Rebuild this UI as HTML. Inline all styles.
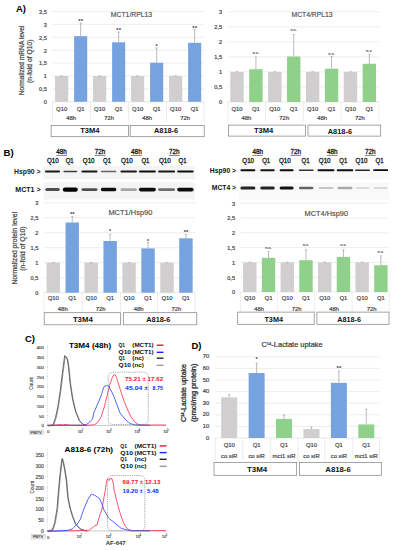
<!DOCTYPE html>
<html><head><meta charset="utf-8"><style>
html,body{margin:0;padding:0;background:#fff;overflow:hidden;width:393px;height:550px;}
svg{display:block;}
text{font-family:"Liberation Sans",sans-serif;}
</style></head><body>
<svg width="393" height="550" viewBox="0 0 393 550">
<defs><filter id="bl" x="-20%" y="-100%" width="140%" height="300%"><feGaussianBlur stdDeviation="0.45"/></filter></defs>
<rect width="393" height="550" fill="#fff"/>
<text x="21.00" y="12.42" font-size="9.5" text-anchor="middle" fill="#000" font-weight="bold" >A)</text>
<line x1="52.40" y1="88.90" x2="204.20" y2="88.90" stroke="#e0e0e0" stroke-width="0.6" />
<line x1="52.40" y1="76.00" x2="204.20" y2="76.00" stroke="#e0e0e0" stroke-width="0.6" />
<line x1="52.40" y1="63.10" x2="204.20" y2="63.10" stroke="#e0e0e0" stroke-width="0.6" />
<line x1="52.40" y1="50.20" x2="204.20" y2="50.20" stroke="#e0e0e0" stroke-width="0.6" />
<line x1="52.40" y1="37.30" x2="204.20" y2="37.30" stroke="#e0e0e0" stroke-width="0.6" />
<line x1="52.40" y1="24.40" x2="204.20" y2="24.40" stroke="#e0e0e0" stroke-width="0.6" />
<line x1="52.40" y1="11.50" x2="204.20" y2="11.50" stroke="#e0e0e0" stroke-width="0.6" />
<text x="46.80" y="104.16" font-size="5.6" text-anchor="end" fill="#4a4a4a"  stroke="#4a4a4a" stroke-width="0.22">0</text>
<text x="46.80" y="91.26" font-size="5.6" text-anchor="end" fill="#4a4a4a"  stroke="#4a4a4a" stroke-width="0.22">0,5</text>
<text x="46.80" y="78.36" font-size="5.6" text-anchor="end" fill="#4a4a4a"  stroke="#4a4a4a" stroke-width="0.22">1</text>
<text x="46.80" y="65.46" font-size="5.6" text-anchor="end" fill="#4a4a4a"  stroke="#4a4a4a" stroke-width="0.22">1,5</text>
<text x="46.80" y="52.56" font-size="5.6" text-anchor="end" fill="#4a4a4a"  stroke="#4a4a4a" stroke-width="0.22">2</text>
<text x="46.80" y="39.66" font-size="5.6" text-anchor="end" fill="#4a4a4a"  stroke="#4a4a4a" stroke-width="0.22">2,5</text>
<text x="46.80" y="26.76" font-size="5.6" text-anchor="end" fill="#4a4a4a"  stroke="#4a4a4a" stroke-width="0.22">3</text>
<text x="46.80" y="13.86" font-size="5.6" text-anchor="end" fill="#4a4a4a"  stroke="#4a4a4a" stroke-width="0.22">3,5</text>
<line x1="52.40" y1="101.80" x2="204.20" y2="101.80" stroke="#e0e0e0" stroke-width="0.7" />
<line x1="52.50" y1="101.80" x2="52.50" y2="122.00" stroke="#e0e0e0" stroke-width="0.6" />
<line x1="90.50" y1="101.80" x2="90.50" y2="122.00" stroke="#e0e0e0" stroke-width="0.6" />
<line x1="128.50" y1="101.80" x2="128.50" y2="122.00" stroke="#e0e0e0" stroke-width="0.6" />
<line x1="166.50" y1="101.80" x2="166.50" y2="122.00" stroke="#e0e0e0" stroke-width="0.6" />
<line x1="204.20" y1="101.80" x2="204.20" y2="122.00" stroke="#e0e0e0" stroke-width="0.6" />
<rect x="55.10" y="76.00" width="13.10" height="25.80" fill="#d0cece" />
<line x1="60.35" y1="75.80" x2="62.95" y2="75.80" stroke="#888" stroke-width="0.5" />
<rect x="74.10" y="36.16" width="13.10" height="65.64" fill="#76a3e0" />
<line x1="80.65" y1="36.16" x2="80.65" y2="23.20" stroke="#8c8c8c" stroke-width="0.6" />
<line x1="79.45" y1="23.20" x2="81.85" y2="23.20" stroke="#8c8c8c" stroke-width="0.5" />
<text x="80.65" y="22.73" font-size="5.5" text-anchor="middle" fill="#404040" font-weight="bold" textLength="4.6" lengthAdjust="spacingAndGlyphs" >**</text>
<rect x="93.10" y="76.00" width="13.10" height="25.80" fill="#d0cece" />
<line x1="98.35" y1="75.80" x2="100.95" y2="75.80" stroke="#888" stroke-width="0.5" />
<rect x="112.10" y="42.31" width="13.10" height="59.49" fill="#76a3e0" />
<line x1="118.65" y1="42.31" x2="118.65" y2="32.00" stroke="#8c8c8c" stroke-width="0.6" />
<line x1="117.45" y1="32.00" x2="119.85" y2="32.00" stroke="#8c8c8c" stroke-width="0.5" />
<text x="118.65" y="32.42" font-size="5.5" text-anchor="middle" fill="#404040" font-weight="bold" textLength="4.6" lengthAdjust="spacingAndGlyphs" >**</text>
<rect x="131.10" y="76.00" width="13.10" height="25.80" fill="#d0cece" />
<line x1="136.35" y1="75.80" x2="138.95" y2="75.80" stroke="#888" stroke-width="0.5" />
<rect x="150.10" y="62.76" width="13.10" height="39.04" fill="#76a3e0" />
<line x1="156.65" y1="62.76" x2="156.65" y2="47.90" stroke="#8c8c8c" stroke-width="0.6" />
<line x1="155.45" y1="47.90" x2="157.85" y2="47.90" stroke="#8c8c8c" stroke-width="0.5" />
<text x="156.65" y="47.83" font-size="5.5" text-anchor="middle" fill="#404040" font-weight="bold" >*</text>
<rect x="169.10" y="76.00" width="13.10" height="25.80" fill="#d0cece" />
<line x1="174.35" y1="75.80" x2="176.95" y2="75.80" stroke="#888" stroke-width="0.5" />
<rect x="188.10" y="42.80" width="13.10" height="59.00" fill="#76a3e0" />
<line x1="194.65" y1="42.80" x2="194.65" y2="29.60" stroke="#8c8c8c" stroke-width="0.6" />
<line x1="193.45" y1="29.60" x2="195.85" y2="29.60" stroke="#8c8c8c" stroke-width="0.5" />
<text x="194.65" y="30.02" font-size="5.5" text-anchor="middle" fill="#404040" font-weight="bold" textLength="4.6" lengthAdjust="spacingAndGlyphs" >**</text>
<text x="61.65" y="110.56" font-size="5.9" text-anchor="middle" fill="#4a4a4a"  stroke="#4a4a4a" stroke-width="0.22">Q10</text>
<text x="80.65" y="110.56" font-size="5.9" text-anchor="middle" fill="#4a4a4a"  stroke="#4a4a4a" stroke-width="0.22">Q1</text>
<text x="99.65" y="110.56" font-size="5.9" text-anchor="middle" fill="#4a4a4a"  stroke="#4a4a4a" stroke-width="0.22">Q10</text>
<text x="118.65" y="110.56" font-size="5.9" text-anchor="middle" fill="#4a4a4a"  stroke="#4a4a4a" stroke-width="0.22">Q1</text>
<text x="137.65" y="110.56" font-size="5.9" text-anchor="middle" fill="#4a4a4a"  stroke="#4a4a4a" stroke-width="0.22">Q10</text>
<text x="156.65" y="110.56" font-size="5.9" text-anchor="middle" fill="#4a4a4a"  stroke="#4a4a4a" stroke-width="0.22">Q1</text>
<text x="175.65" y="110.56" font-size="5.9" text-anchor="middle" fill="#4a4a4a"  stroke="#4a4a4a" stroke-width="0.22">Q10</text>
<text x="194.65" y="110.56" font-size="5.9" text-anchor="middle" fill="#4a4a4a"  stroke="#4a4a4a" stroke-width="0.22">Q1</text>
<text x="71.15" y="120.06" font-size="5.9" text-anchor="middle" fill="#4a4a4a"  stroke="#4a4a4a" stroke-width="0.22">48h</text>
<text x="109.15" y="120.06" font-size="5.9" text-anchor="middle" fill="#4a4a4a"  stroke="#4a4a4a" stroke-width="0.22">72h</text>
<text x="147.15" y="120.06" font-size="5.9" text-anchor="middle" fill="#4a4a4a"  stroke="#4a4a4a" stroke-width="0.22">48h</text>
<text x="185.15" y="120.06" font-size="5.9" text-anchor="middle" fill="#4a4a4a"  stroke="#4a4a4a" stroke-width="0.22">72h</text>
<rect x="51.10" y="125.40" width="77.40" height="11.30" fill="#fff" stroke="#7f7f7f" stroke-width="0.7"/>
<text x="89.85" y="133.14" font-size="7.7" text-anchor="middle" fill="#111" font-weight="bold" textLength="19.3" lengthAdjust="spacingAndGlyphs" >T3M4</text>
<rect x="130.20" y="125.40" width="74.00" height="11.30" fill="#fff" stroke="#7f7f7f" stroke-width="0.7"/>
<text x="166.05" y="133.29" font-size="7.7" text-anchor="middle" fill="#111" font-weight="bold" textLength="24.1" lengthAdjust="spacingAndGlyphs" >A818-6</text>
<text x="131.50" y="17.05" font-size="7.3" text-anchor="middle" fill="#4a4a4a" textLength="41.3" lengthAdjust="spacingAndGlyphs"  stroke="#4a4a4a" stroke-width="0.14">MCT1/RPL13</text>
<text transform="translate(21.80,60.50) rotate(-90)" x="0" y="2.24" font-size="6.4" text-anchor="middle" fill="#4a4a4a" textLength="69.6" lengthAdjust="spacingAndGlyphs"  stroke="#4a4a4a" stroke-width="0.22">Normalized mRNA level</text>
<text transform="translate(29.60,61.30) rotate(-90)" x="0" y="2.24" font-size="6.4" text-anchor="middle" fill="#4a4a4a" textLength="43.4" lengthAdjust="spacingAndGlyphs"  stroke="#4a4a4a" stroke-width="0.22">(n-fold of Q10)</text>
<line x1="227.80" y1="86.95" x2="379.20" y2="86.95" stroke="#e0e0e0" stroke-width="0.6" />
<line x1="227.80" y1="71.90" x2="379.20" y2="71.90" stroke="#e0e0e0" stroke-width="0.6" />
<line x1="227.80" y1="56.85" x2="379.20" y2="56.85" stroke="#e0e0e0" stroke-width="0.6" />
<line x1="227.80" y1="41.80" x2="379.20" y2="41.80" stroke="#e0e0e0" stroke-width="0.6" />
<line x1="227.80" y1="26.75" x2="379.20" y2="26.75" stroke="#e0e0e0" stroke-width="0.6" />
<line x1="227.80" y1="11.70" x2="379.20" y2="11.70" stroke="#e0e0e0" stroke-width="0.6" />
<text x="222.00" y="104.36" font-size="5.6" text-anchor="end" fill="#4a4a4a"  stroke="#4a4a4a" stroke-width="0.22">0</text>
<text x="222.00" y="89.31" font-size="5.6" text-anchor="end" fill="#4a4a4a"  stroke="#4a4a4a" stroke-width="0.22">0,5</text>
<text x="222.00" y="74.26" font-size="5.6" text-anchor="end" fill="#4a4a4a"  stroke="#4a4a4a" stroke-width="0.22">1</text>
<text x="222.00" y="59.21" font-size="5.6" text-anchor="end" fill="#4a4a4a"  stroke="#4a4a4a" stroke-width="0.22">1,5</text>
<text x="222.00" y="44.16" font-size="5.6" text-anchor="end" fill="#4a4a4a"  stroke="#4a4a4a" stroke-width="0.22">2</text>
<text x="222.00" y="29.11" font-size="5.6" text-anchor="end" fill="#4a4a4a"  stroke="#4a4a4a" stroke-width="0.22">2,5</text>
<text x="222.00" y="14.06" font-size="5.6" text-anchor="end" fill="#4a4a4a"  stroke="#4a4a4a" stroke-width="0.22">3</text>
<line x1="227.80" y1="102.00" x2="379.20" y2="102.00" stroke="#e0e0e0" stroke-width="0.7" />
<line x1="228.00" y1="102.00" x2="228.00" y2="122.00" stroke="#e0e0e0" stroke-width="0.6" />
<line x1="265.60" y1="102.00" x2="265.60" y2="122.00" stroke="#e0e0e0" stroke-width="0.6" />
<line x1="303.40" y1="102.00" x2="303.40" y2="122.00" stroke="#e0e0e0" stroke-width="0.6" />
<line x1="341.20" y1="102.00" x2="341.20" y2="122.00" stroke="#e0e0e0" stroke-width="0.6" />
<line x1="379.00" y1="102.00" x2="379.00" y2="122.00" stroke="#e0e0e0" stroke-width="0.6" />
<rect x="230.30" y="71.90" width="13.40" height="30.10" fill="#d0cece" />
<line x1="235.70" y1="71.70" x2="238.30" y2="71.70" stroke="#888" stroke-width="0.5" />
<rect x="249.21" y="69.19" width="13.40" height="32.81" fill="#8fd18a" />
<line x1="255.91" y1="69.19" x2="255.91" y2="57.00" stroke="#8c8c8c" stroke-width="0.6" />
<line x1="254.71" y1="57.00" x2="257.11" y2="57.00" stroke="#8c8c8c" stroke-width="0.5" />
<text x="255.91" y="54.00" font-size="4.0" text-anchor="middle" fill="#404040" font-weight="bold" textLength="6.6" lengthAdjust="spacingAndGlyphs" >n.s.</text>
<rect x="268.12" y="71.90" width="13.40" height="30.10" fill="#d0cece" />
<line x1="273.52" y1="71.70" x2="276.12" y2="71.70" stroke="#888" stroke-width="0.5" />
<rect x="287.03" y="56.55" width="13.40" height="45.45" fill="#8fd18a" />
<line x1="293.73" y1="56.55" x2="293.73" y2="34.60" stroke="#8c8c8c" stroke-width="0.6" />
<line x1="292.53" y1="34.60" x2="294.93" y2="34.60" stroke="#8c8c8c" stroke-width="0.5" />
<text x="293.73" y="30.70" font-size="4.0" text-anchor="middle" fill="#404040" font-weight="bold" textLength="6.6" lengthAdjust="spacingAndGlyphs" >n.s.</text>
<rect x="305.94" y="71.90" width="13.40" height="30.10" fill="#d0cece" />
<line x1="311.34" y1="71.70" x2="313.94" y2="71.70" stroke="#888" stroke-width="0.5" />
<rect x="324.85" y="68.74" width="13.40" height="33.26" fill="#8fd18a" />
<line x1="331.55" y1="68.74" x2="331.55" y2="56.30" stroke="#8c8c8c" stroke-width="0.6" />
<line x1="330.35" y1="56.30" x2="332.75" y2="56.30" stroke="#8c8c8c" stroke-width="0.5" />
<text x="331.55" y="54.60" font-size="4.0" text-anchor="middle" fill="#404040" font-weight="bold" textLength="6.6" lengthAdjust="spacingAndGlyphs" >n.s.</text>
<rect x="343.76" y="71.90" width="13.40" height="30.10" fill="#d0cece" />
<line x1="349.16" y1="71.70" x2="351.76" y2="71.70" stroke="#888" stroke-width="0.5" />
<rect x="362.67" y="63.77" width="13.40" height="38.23" fill="#8fd18a" />
<line x1="369.37" y1="63.77" x2="369.37" y2="54.20" stroke="#8c8c8c" stroke-width="0.6" />
<line x1="368.17" y1="54.20" x2="370.57" y2="54.20" stroke="#8c8c8c" stroke-width="0.5" />
<text x="369.37" y="52.40" font-size="4.0" text-anchor="middle" fill="#404040" font-weight="bold" textLength="6.6" lengthAdjust="spacingAndGlyphs" >n.s.</text>
<text x="237.00" y="110.56" font-size="5.9" text-anchor="middle" fill="#4a4a4a"  stroke="#4a4a4a" stroke-width="0.22">Q10</text>
<text x="255.91" y="110.56" font-size="5.9" text-anchor="middle" fill="#4a4a4a"  stroke="#4a4a4a" stroke-width="0.22">Q1</text>
<text x="274.82" y="110.56" font-size="5.9" text-anchor="middle" fill="#4a4a4a"  stroke="#4a4a4a" stroke-width="0.22">Q10</text>
<text x="293.73" y="110.56" font-size="5.9" text-anchor="middle" fill="#4a4a4a"  stroke="#4a4a4a" stroke-width="0.22">Q1</text>
<text x="312.64" y="110.56" font-size="5.9" text-anchor="middle" fill="#4a4a4a"  stroke="#4a4a4a" stroke-width="0.22">Q10</text>
<text x="331.55" y="110.56" font-size="5.9" text-anchor="middle" fill="#4a4a4a"  stroke="#4a4a4a" stroke-width="0.22">Q1</text>
<text x="350.46" y="110.56" font-size="5.9" text-anchor="middle" fill="#4a4a4a"  stroke="#4a4a4a" stroke-width="0.22">Q10</text>
<text x="369.37" y="110.56" font-size="5.9" text-anchor="middle" fill="#4a4a4a"  stroke="#4a4a4a" stroke-width="0.22">Q1</text>
<text x="246.46" y="120.06" font-size="5.9" text-anchor="middle" fill="#4a4a4a"  stroke="#4a4a4a" stroke-width="0.22">48h</text>
<text x="284.27" y="120.06" font-size="5.9" text-anchor="middle" fill="#4a4a4a"  stroke="#4a4a4a" stroke-width="0.22">72h</text>
<text x="322.09" y="120.06" font-size="5.9" text-anchor="middle" fill="#4a4a4a"  stroke="#4a4a4a" stroke-width="0.22">48h</text>
<text x="359.91" y="120.06" font-size="5.9" text-anchor="middle" fill="#4a4a4a"  stroke="#4a4a4a" stroke-width="0.22">72h</text>
<rect x="228.60" y="125.10" width="76.80" height="11.00" fill="#fff" stroke="#7f7f7f" stroke-width="0.7"/>
<text x="263.60" y="133.44" font-size="7.7" text-anchor="middle" fill="#111" font-weight="bold" textLength="19.3" lengthAdjust="spacingAndGlyphs" >T3M4</text>
<rect x="308.00" y="125.10" width="72.70" height="11.00" fill="#fff" stroke="#7f7f7f" stroke-width="0.7"/>
<text x="339.90" y="133.59" font-size="7.7" text-anchor="middle" fill="#111" font-weight="bold" textLength="24.2" lengthAdjust="spacingAndGlyphs" >A818-6</text>
<text x="312.00" y="16.75" font-size="7.3" text-anchor="middle" fill="#4a4a4a" textLength="41.0" lengthAdjust="spacingAndGlyphs"  stroke="#4a4a4a" stroke-width="0.14">MCT4/RPL13</text>
<text x="8.60" y="156.36" font-size="9.6" text-anchor="middle" fill="#000" font-weight="bold" >B)</text>
<rect x="43.50" y="165.80" width="151.50" height="13.30" fill="#f4f4f4" />
<rect x="43.50" y="182.30" width="151.50" height="17.20" fill="#f4f4f4" />
<text x="52.80" y="162.84" font-size="6.4" text-anchor="middle" fill="#1a1a1a" textLength="11.8" lengthAdjust="spacingAndGlyphs"  stroke="#1a1a1a" stroke-width="0.3">Q10</text>
<text x="69.70" y="162.84" font-size="6.4" text-anchor="middle" fill="#1a1a1a" textLength="8.0" lengthAdjust="spacingAndGlyphs"  stroke="#1a1a1a" stroke-width="0.3">Q1</text>
<text x="88.70" y="162.84" font-size="6.4" text-anchor="middle" fill="#1a1a1a" textLength="11.8" lengthAdjust="spacingAndGlyphs"  stroke="#1a1a1a" stroke-width="0.3">Q10</text>
<text x="107.00" y="162.84" font-size="6.4" text-anchor="middle" fill="#1a1a1a" textLength="8.0" lengthAdjust="spacingAndGlyphs"  stroke="#1a1a1a" stroke-width="0.3">Q1</text>
<text x="126.90" y="162.84" font-size="6.4" text-anchor="middle" fill="#1a1a1a" textLength="11.8" lengthAdjust="spacingAndGlyphs"  stroke="#1a1a1a" stroke-width="0.3">Q10</text>
<text x="145.40" y="162.84" font-size="6.4" text-anchor="middle" fill="#1a1a1a" textLength="8.0" lengthAdjust="spacingAndGlyphs"  stroke="#1a1a1a" stroke-width="0.3">Q1</text>
<text x="164.80" y="162.84" font-size="6.4" text-anchor="middle" fill="#1a1a1a" textLength="11.8" lengthAdjust="spacingAndGlyphs"  stroke="#1a1a1a" stroke-width="0.3">Q10</text>
<text x="182.60" y="162.84" font-size="6.4" text-anchor="middle" fill="#1a1a1a" textLength="8.0" lengthAdjust="spacingAndGlyphs"  stroke="#1a1a1a" stroke-width="0.3">Q1</text>
<text x="61.60" y="154.11" font-size="6.3" text-anchor="middle" fill="#1a1a1a" textLength="10.6" lengthAdjust="spacingAndGlyphs"  stroke="#1a1a1a" stroke-width="0.3">48h</text>
<line x1="56.20" y1="155.50" x2="67.00" y2="155.50" stroke="#333" stroke-width="0.55" />
<text x="100.00" y="154.11" font-size="6.3" text-anchor="middle" fill="#1a1a1a" textLength="10.6" lengthAdjust="spacingAndGlyphs"  stroke="#1a1a1a" stroke-width="0.3">72h</text>
<line x1="94.60" y1="155.50" x2="105.40" y2="155.50" stroke="#333" stroke-width="0.55" />
<text x="136.40" y="154.11" font-size="6.3" text-anchor="middle" fill="#1a1a1a" textLength="10.6" lengthAdjust="spacingAndGlyphs"  stroke="#1a1a1a" stroke-width="0.3">48h</text>
<line x1="131.00" y1="155.50" x2="141.80" y2="155.50" stroke="#333" stroke-width="0.55" />
<text x="174.20" y="154.11" font-size="6.3" text-anchor="middle" fill="#1a1a1a" textLength="10.6" lengthAdjust="spacingAndGlyphs"  stroke="#1a1a1a" stroke-width="0.3">72h</text>
<line x1="168.80" y1="155.50" x2="179.60" y2="155.50" stroke="#333" stroke-width="0.55" />
<rect x="45.00" y="170.60" width="15.00" height="1.80" rx="0.90" fill="#000" fill-opacity="0.9" filter="url(#bl)"/>
<rect x="45.25" y="188.10" width="14.50" height="3.00" rx="1.50" fill="#000" fill-opacity="0.68" filter="url(#bl)"/>
<rect x="63.30" y="170.75" width="14.00" height="1.50" rx="0.75" fill="#000" fill-opacity="0.75" filter="url(#bl)"/>
<rect x="62.80" y="187.40" width="15.00" height="4.40" rx="2.20" fill="#000" fill-opacity="1.0" filter="url(#bl)"/>
<rect x="81.50" y="170.60" width="16.00" height="1.80" rx="0.90" fill="#000" fill-opacity="0.9" filter="url(#bl)"/>
<rect x="81.50" y="188.20" width="16.00" height="2.80" rx="1.40" fill="#000" fill-opacity="0.68" filter="url(#bl)"/>
<rect x="100.85" y="170.85" width="15.50" height="1.30" rx="0.65" fill="#000" fill-opacity="0.6" filter="url(#bl)"/>
<rect x="100.85" y="187.85" width="15.50" height="3.50" rx="1.75" fill="#000" fill-opacity="0.95" filter="url(#bl)"/>
<rect x="120.45" y="170.55" width="16.50" height="1.90" rx="0.95" fill="#000" fill-opacity="0.9" filter="url(#bl)"/>
<rect x="120.45" y="188.30" width="16.50" height="2.60" rx="1.30" fill="#000" fill-opacity="0.32" filter="url(#bl)"/>
<rect x="138.90" y="170.55" width="17.00" height="1.90" rx="0.95" fill="#000" fill-opacity="0.95" filter="url(#bl)"/>
<rect x="138.90" y="187.80" width="17.00" height="3.60" rx="1.80" fill="#000" fill-opacity="0.95" filter="url(#bl)"/>
<rect x="158.10" y="170.55" width="17.00" height="1.90" rx="0.95" fill="#000" fill-opacity="0.9" filter="url(#bl)"/>
<rect x="158.10" y="188.20" width="17.00" height="2.80" rx="1.40" fill="#000" fill-opacity="0.55" filter="url(#bl)"/>
<rect x="177.15" y="170.55" width="16.50" height="1.90" rx="0.95" fill="#000" fill-opacity="0.95" filter="url(#bl)"/>
<rect x="177.15" y="187.70" width="16.50" height="3.80" rx="1.90" fill="#000" fill-opacity="0.95" filter="url(#bl)"/>
<text x="14.00" y="173.65" font-size="7.0" text-anchor="start" fill="#222" font-weight="bold" textLength="26.5" lengthAdjust="spacingAndGlyphs" >Hsp90 &gt;</text>
<text x="15.30" y="191.65" font-size="7.0" text-anchor="start" fill="#111" font-weight="bold" textLength="25.2" lengthAdjust="spacingAndGlyphs" >MCT1 &gt;</text>
<rect x="239.00" y="165.80" width="150.00" height="13.30" fill="#f9f9f9" />
<rect x="239.00" y="182.30" width="150.00" height="17.20" fill="#f9f9f9" />
<text x="248.20" y="162.84" font-size="6.4" text-anchor="middle" fill="#1a1a1a" textLength="11.8" lengthAdjust="spacingAndGlyphs"  stroke="#1a1a1a" stroke-width="0.3">Q10</text>
<text x="266.20" y="162.84" font-size="6.4" text-anchor="middle" fill="#1a1a1a" textLength="8.0" lengthAdjust="spacingAndGlyphs"  stroke="#1a1a1a" stroke-width="0.3">Q1</text>
<text x="284.90" y="162.84" font-size="6.4" text-anchor="middle" fill="#1a1a1a" textLength="11.8" lengthAdjust="spacingAndGlyphs"  stroke="#1a1a1a" stroke-width="0.3">Q10</text>
<text x="305.60" y="162.84" font-size="6.4" text-anchor="middle" fill="#1a1a1a" textLength="8.0" lengthAdjust="spacingAndGlyphs"  stroke="#1a1a1a" stroke-width="0.3">Q1</text>
<text x="324.70" y="162.84" font-size="6.4" text-anchor="middle" fill="#1a1a1a" textLength="11.8" lengthAdjust="spacingAndGlyphs"  stroke="#1a1a1a" stroke-width="0.3">Q10</text>
<text x="343.30" y="162.84" font-size="6.4" text-anchor="middle" fill="#1a1a1a" textLength="8.0" lengthAdjust="spacingAndGlyphs"  stroke="#1a1a1a" stroke-width="0.3">Q1</text>
<text x="361.50" y="162.84" font-size="6.4" text-anchor="middle" fill="#1a1a1a" textLength="11.8" lengthAdjust="spacingAndGlyphs"  stroke="#1a1a1a" stroke-width="0.3">Q10</text>
<text x="379.60" y="162.84" font-size="6.4" text-anchor="middle" fill="#1a1a1a" textLength="8.0" lengthAdjust="spacingAndGlyphs"  stroke="#1a1a1a" stroke-width="0.3">Q1</text>
<text x="257.70" y="154.11" font-size="6.3" text-anchor="middle" fill="#1a1a1a" textLength="10.6" lengthAdjust="spacingAndGlyphs"  stroke="#1a1a1a" stroke-width="0.3">48h</text>
<line x1="252.30" y1="155.50" x2="263.10" y2="155.50" stroke="#333" stroke-width="0.55" />
<text x="295.80" y="154.11" font-size="6.3" text-anchor="middle" fill="#1a1a1a" textLength="10.6" lengthAdjust="spacingAndGlyphs"  stroke="#1a1a1a" stroke-width="0.3">72h</text>
<line x1="290.40" y1="155.50" x2="301.20" y2="155.50" stroke="#333" stroke-width="0.55" />
<text x="332.20" y="154.11" font-size="6.3" text-anchor="middle" fill="#1a1a1a" textLength="10.6" lengthAdjust="spacingAndGlyphs"  stroke="#1a1a1a" stroke-width="0.3">48h</text>
<line x1="326.80" y1="155.50" x2="337.60" y2="155.50" stroke="#333" stroke-width="0.55" />
<text x="370.20" y="154.11" font-size="6.3" text-anchor="middle" fill="#1a1a1a" textLength="10.6" lengthAdjust="spacingAndGlyphs"  stroke="#1a1a1a" stroke-width="0.3">72h</text>
<line x1="364.80" y1="155.50" x2="375.60" y2="155.50" stroke="#333" stroke-width="0.55" />
<rect x="240.40" y="169.15" width="15.00" height="2.10" rx="1.05" fill="#000" fill-opacity="0.95" filter="url(#bl)"/>
<rect x="240.40" y="186.50" width="15.00" height="3.00" rx="1.50" fill="#000" fill-opacity="0.85" filter="url(#bl)"/>
<rect x="260.25" y="169.25" width="14.50" height="1.90" rx="0.95" fill="#000" fill-opacity="0.92" filter="url(#bl)"/>
<rect x="260.25" y="186.50" width="14.50" height="3.00" rx="1.50" fill="#000" fill-opacity="0.85" filter="url(#bl)"/>
<rect x="279.60" y="169.15" width="14.00" height="2.10" rx="1.05" fill="#000" fill-opacity="0.95" filter="url(#bl)"/>
<rect x="279.60" y="186.40" width="14.00" height="3.20" rx="1.60" fill="#000" fill-opacity="0.92" filter="url(#bl)"/>
<rect x="298.70" y="169.40" width="15.00" height="1.60" rx="0.80" fill="#000" fill-opacity="0.8" filter="url(#bl)"/>
<rect x="298.95" y="186.70" width="14.50" height="2.60" rx="1.30" fill="#000" fill-opacity="0.6" filter="url(#bl)"/>
<rect x="317.50" y="169.20" width="17.00" height="2.00" rx="1.00" fill="#000" fill-opacity="0.95" filter="url(#bl)"/>
<rect x="318.50" y="186.90" width="15.00" height="2.20" rx="1.10" fill="#000" fill-opacity="0.2" filter="url(#bl)"/>
<rect x="336.75" y="169.20" width="16.50" height="2.00" rx="1.00" fill="#000" fill-opacity="0.95" filter="url(#bl)"/>
<rect x="337.50" y="186.80" width="15.00" height="2.40" rx="1.20" fill="#000" fill-opacity="0.32" filter="url(#bl)"/>
<rect x="355.00" y="169.45" width="15.00" height="1.50" rx="0.75" fill="#000" fill-opacity="0.85" filter="url(#bl)"/>
<rect x="355.50" y="187.00" width="14.00" height="2.00" rx="1.00" fill="#000" fill-opacity="0.12" filter="url(#bl)"/>
<rect x="373.20" y="169.30" width="15.00" height="1.80" rx="0.90" fill="#000" fill-opacity="0.95" filter="url(#bl)"/>
<rect x="373.70" y="187.00" width="14.00" height="2.00" rx="1.00" fill="#000" fill-opacity="0.13" filter="url(#bl)"/>
<text x="209.80" y="173.45" font-size="7.0" text-anchor="start" fill="#111" font-weight="bold" textLength="26.2" lengthAdjust="spacingAndGlyphs" >Hsp90 &gt;</text>
<text x="211.80" y="190.15" font-size="7.0" text-anchor="start" fill="#111" font-weight="bold" textLength="24.2" lengthAdjust="spacingAndGlyphs" >MCT4 &gt;</text>
<line x1="43.80" y1="277.70" x2="195.20" y2="277.70" stroke="#e0e0e0" stroke-width="0.6" />
<line x1="43.80" y1="262.70" x2="195.20" y2="262.70" stroke="#e0e0e0" stroke-width="0.6" />
<line x1="43.80" y1="247.70" x2="195.20" y2="247.70" stroke="#e0e0e0" stroke-width="0.6" />
<line x1="43.80" y1="232.70" x2="195.20" y2="232.70" stroke="#e0e0e0" stroke-width="0.6" />
<line x1="43.80" y1="217.70" x2="195.20" y2="217.70" stroke="#e0e0e0" stroke-width="0.6" />
<line x1="43.80" y1="202.70" x2="195.20" y2="202.70" stroke="#e0e0e0" stroke-width="0.6" />
<text x="38.40" y="295.06" font-size="5.6" text-anchor="end" fill="#4a4a4a"  stroke="#4a4a4a" stroke-width="0.22">0</text>
<text x="38.40" y="280.06" font-size="5.6" text-anchor="end" fill="#4a4a4a"  stroke="#4a4a4a" stroke-width="0.22">0,5</text>
<text x="38.40" y="265.06" font-size="5.6" text-anchor="end" fill="#4a4a4a"  stroke="#4a4a4a" stroke-width="0.22">1</text>
<text x="38.40" y="250.06" font-size="5.6" text-anchor="end" fill="#4a4a4a"  stroke="#4a4a4a" stroke-width="0.22">1,5</text>
<text x="38.40" y="235.06" font-size="5.6" text-anchor="end" fill="#4a4a4a"  stroke="#4a4a4a" stroke-width="0.22">2</text>
<text x="38.40" y="220.06" font-size="5.6" text-anchor="end" fill="#4a4a4a"  stroke="#4a4a4a" stroke-width="0.22">2,5</text>
<text x="38.40" y="205.06" font-size="5.6" text-anchor="end" fill="#4a4a4a"  stroke="#4a4a4a" stroke-width="0.22">3</text>
<line x1="43.80" y1="292.70" x2="195.20" y2="292.70" stroke="#e0e0e0" stroke-width="0.7" />
<line x1="43.80" y1="292.70" x2="43.80" y2="313.00" stroke="#e0e0e0" stroke-width="0.6" />
<line x1="82.20" y1="292.70" x2="82.20" y2="313.00" stroke="#e0e0e0" stroke-width="0.6" />
<line x1="120.40" y1="292.70" x2="120.40" y2="313.00" stroke="#e0e0e0" stroke-width="0.6" />
<line x1="157.60" y1="292.70" x2="157.60" y2="313.00" stroke="#e0e0e0" stroke-width="0.6" />
<line x1="195.20" y1="292.70" x2="195.20" y2="313.00" stroke="#e0e0e0" stroke-width="0.6" />
<rect x="46.60" y="262.70" width="13.40" height="30.00" fill="#d0cece" />
<line x1="52.00" y1="262.50" x2="54.60" y2="262.50" stroke="#888" stroke-width="0.5" />
<rect x="65.55" y="222.50" width="13.40" height="70.20" fill="#76a3e0" />
<line x1="72.25" y1="222.50" x2="72.25" y2="216.60" stroke="#8c8c8c" stroke-width="0.6" />
<line x1="71.05" y1="216.60" x2="73.45" y2="216.60" stroke="#8c8c8c" stroke-width="0.5" />
<text x="72.25" y="216.43" font-size="5.5" text-anchor="middle" fill="#404040" font-weight="bold" textLength="4.6" lengthAdjust="spacingAndGlyphs" >**</text>
<rect x="84.50" y="262.70" width="13.40" height="30.00" fill="#d0cece" />
<line x1="89.90" y1="262.50" x2="92.50" y2="262.50" stroke="#888" stroke-width="0.5" />
<rect x="103.45" y="241.01" width="13.40" height="51.69" fill="#76a3e0" />
<line x1="110.15" y1="241.01" x2="110.15" y2="234.30" stroke="#8c8c8c" stroke-width="0.6" />
<line x1="108.95" y1="234.30" x2="111.35" y2="234.30" stroke="#8c8c8c" stroke-width="0.5" />
<text x="110.15" y="232.82" font-size="5.5" text-anchor="middle" fill="#404040" font-weight="bold" >*</text>
<rect x="122.40" y="262.70" width="13.40" height="30.00" fill="#d0cece" />
<line x1="127.80" y1="262.50" x2="130.40" y2="262.50" stroke="#888" stroke-width="0.5" />
<rect x="141.35" y="248.39" width="13.40" height="44.31" fill="#76a3e0" />
<line x1="148.05" y1="248.39" x2="148.05" y2="242.60" stroke="#8c8c8c" stroke-width="0.6" />
<line x1="146.85" y1="242.60" x2="149.25" y2="242.60" stroke="#8c8c8c" stroke-width="0.5" />
<text x="148.05" y="243.03" font-size="5.5" text-anchor="middle" fill="#404040" font-weight="bold" >*</text>
<rect x="160.30" y="262.70" width="13.40" height="30.00" fill="#d0cece" />
<line x1="165.70" y1="262.50" x2="168.30" y2="262.50" stroke="#888" stroke-width="0.5" />
<rect x="179.25" y="238.31" width="13.40" height="54.39" fill="#76a3e0" />
<line x1="185.95" y1="238.31" x2="185.95" y2="234.30" stroke="#8c8c8c" stroke-width="0.6" />
<line x1="184.75" y1="234.30" x2="187.15" y2="234.30" stroke="#8c8c8c" stroke-width="0.5" />
<text x="185.95" y="233.62" font-size="5.5" text-anchor="middle" fill="#404040" font-weight="bold" textLength="4.6" lengthAdjust="spacingAndGlyphs" >**</text>
<text x="53.30" y="300.37" font-size="5.9" text-anchor="middle" fill="#4a4a4a"  stroke="#4a4a4a" stroke-width="0.22">Q10</text>
<text x="72.25" y="300.37" font-size="5.9" text-anchor="middle" fill="#4a4a4a"  stroke="#4a4a4a" stroke-width="0.22">Q1</text>
<text x="91.20" y="300.37" font-size="5.9" text-anchor="middle" fill="#4a4a4a"  stroke="#4a4a4a" stroke-width="0.22">Q10</text>
<text x="110.15" y="300.37" font-size="5.9" text-anchor="middle" fill="#4a4a4a"  stroke="#4a4a4a" stroke-width="0.22">Q1</text>
<text x="129.10" y="300.37" font-size="5.9" text-anchor="middle" fill="#4a4a4a"  stroke="#4a4a4a" stroke-width="0.22">Q10</text>
<text x="148.05" y="300.37" font-size="5.9" text-anchor="middle" fill="#4a4a4a"  stroke="#4a4a4a" stroke-width="0.22">Q1</text>
<text x="167.00" y="300.37" font-size="5.9" text-anchor="middle" fill="#4a4a4a"  stroke="#4a4a4a" stroke-width="0.22">Q10</text>
<text x="185.95" y="300.37" font-size="5.9" text-anchor="middle" fill="#4a4a4a"  stroke="#4a4a4a" stroke-width="0.22">Q1</text>
<text x="62.78" y="311.06" font-size="5.9" text-anchor="middle" fill="#4a4a4a"  stroke="#4a4a4a" stroke-width="0.22">48h</text>
<text x="100.67" y="311.06" font-size="5.9" text-anchor="middle" fill="#4a4a4a"  stroke="#4a4a4a" stroke-width="0.22">72h</text>
<text x="138.57" y="311.06" font-size="5.9" text-anchor="middle" fill="#4a4a4a"  stroke="#4a4a4a" stroke-width="0.22">48h</text>
<text x="176.47" y="311.06" font-size="5.9" text-anchor="middle" fill="#4a4a4a"  stroke="#4a4a4a" stroke-width="0.22">72h</text>
<rect x="44.20" y="312.70" width="76.40" height="12.10" fill="#fff" stroke="#7f7f7f" stroke-width="0.7"/>
<text x="82.80" y="321.69" font-size="7.7" text-anchor="middle" fill="#111" font-weight="bold" textLength="19.8" lengthAdjust="spacingAndGlyphs" >T3M4</text>
<rect x="123.30" y="312.70" width="73.50" height="12.10" fill="#fff" stroke="#7f7f7f" stroke-width="0.7"/>
<text x="158.30" y="321.80" font-size="7.7" text-anchor="middle" fill="#111" font-weight="bold" textLength="24.0" lengthAdjust="spacingAndGlyphs" >A818-6</text>
<text x="130.40" y="215.36" font-size="7.3" text-anchor="middle" fill="#4a4a4a" textLength="44.0" lengthAdjust="spacingAndGlyphs"  stroke="#4a4a4a" stroke-width="0.14">MCT1/Hsp90</text>
<text transform="translate(15.20,248.20) rotate(-90)" x="0" y="2.24" font-size="6.4" text-anchor="middle" fill="#4a4a4a" textLength="72.7" lengthAdjust="spacingAndGlyphs"  stroke="#4a4a4a" stroke-width="0.22">Normalized protein level</text>
<text transform="translate(23.20,248.60) rotate(-90)" x="0" y="2.24" font-size="6.4" text-anchor="middle" fill="#4a4a4a" textLength="44.5" lengthAdjust="spacingAndGlyphs"  stroke="#4a4a4a" stroke-width="0.22">(n-fold of Q10)</text>
<line x1="240.40" y1="277.20" x2="389.00" y2="277.20" stroke="#e0e0e0" stroke-width="0.6" />
<line x1="240.40" y1="262.40" x2="389.00" y2="262.40" stroke="#e0e0e0" stroke-width="0.6" />
<line x1="240.40" y1="247.60" x2="389.00" y2="247.60" stroke="#e0e0e0" stroke-width="0.6" />
<line x1="240.40" y1="232.80" x2="389.00" y2="232.80" stroke="#e0e0e0" stroke-width="0.6" />
<line x1="240.40" y1="218.00" x2="389.00" y2="218.00" stroke="#e0e0e0" stroke-width="0.6" />
<line x1="240.40" y1="203.20" x2="389.00" y2="203.20" stroke="#e0e0e0" stroke-width="0.6" />
<text x="235.00" y="294.36" font-size="5.6" text-anchor="end" fill="#4a4a4a"  stroke="#4a4a4a" stroke-width="0.22">0</text>
<text x="235.00" y="279.56" font-size="5.6" text-anchor="end" fill="#4a4a4a"  stroke="#4a4a4a" stroke-width="0.22">0,5</text>
<text x="235.00" y="264.76" font-size="5.6" text-anchor="end" fill="#4a4a4a"  stroke="#4a4a4a" stroke-width="0.22">1</text>
<text x="235.00" y="249.96" font-size="5.6" text-anchor="end" fill="#4a4a4a"  stroke="#4a4a4a" stroke-width="0.22">1,5</text>
<text x="235.00" y="235.16" font-size="5.6" text-anchor="end" fill="#4a4a4a"  stroke="#4a4a4a" stroke-width="0.22">2</text>
<text x="235.00" y="220.36" font-size="5.6" text-anchor="end" fill="#4a4a4a"  stroke="#4a4a4a" stroke-width="0.22">2,5</text>
<text x="235.00" y="205.56" font-size="5.6" text-anchor="end" fill="#4a4a4a"  stroke="#4a4a4a" stroke-width="0.22">3</text>
<line x1="240.40" y1="292.00" x2="389.00" y2="292.00" stroke="#e0e0e0" stroke-width="0.7" />
<line x1="240.40" y1="292.00" x2="240.40" y2="312.00" stroke="#e0e0e0" stroke-width="0.6" />
<line x1="277.30" y1="292.00" x2="277.30" y2="312.00" stroke="#e0e0e0" stroke-width="0.6" />
<line x1="314.70" y1="292.00" x2="314.70" y2="312.00" stroke="#e0e0e0" stroke-width="0.6" />
<line x1="352.10" y1="292.00" x2="352.10" y2="312.00" stroke="#e0e0e0" stroke-width="0.6" />
<line x1="389.30" y1="292.00" x2="389.30" y2="312.00" stroke="#e0e0e0" stroke-width="0.6" />
<rect x="243.10" y="262.40" width="13.40" height="29.60" fill="#d0cece" />
<line x1="248.50" y1="262.20" x2="251.10" y2="262.20" stroke="#888" stroke-width="0.5" />
<rect x="261.83" y="257.81" width="13.40" height="34.19" fill="#8fd18a" />
<line x1="268.53" y1="257.81" x2="268.53" y2="251.60" stroke="#8c8c8c" stroke-width="0.6" />
<line x1="267.33" y1="251.60" x2="269.73" y2="251.60" stroke="#8c8c8c" stroke-width="0.5" />
<text x="268.53" y="249.30" font-size="4.0" text-anchor="middle" fill="#404040" font-weight="bold" textLength="6.6" lengthAdjust="spacingAndGlyphs" >n.s.</text>
<rect x="280.56" y="262.40" width="13.40" height="29.60" fill="#d0cece" />
<line x1="285.96" y1="262.20" x2="288.56" y2="262.20" stroke="#888" stroke-width="0.5" />
<rect x="299.29" y="260.21" width="13.40" height="31.79" fill="#8fd18a" />
<line x1="305.99" y1="260.21" x2="305.99" y2="249.80" stroke="#8c8c8c" stroke-width="0.6" />
<line x1="304.79" y1="249.80" x2="307.19" y2="249.80" stroke="#8c8c8c" stroke-width="0.5" />
<text x="305.99" y="245.80" font-size="4.0" text-anchor="middle" fill="#404040" font-weight="bold" textLength="6.6" lengthAdjust="spacingAndGlyphs" >n.s.</text>
<rect x="318.02" y="262.40" width="13.40" height="29.60" fill="#d0cece" />
<line x1="323.42" y1="262.20" x2="326.02" y2="262.20" stroke="#888" stroke-width="0.5" />
<rect x="336.75" y="256.89" width="13.40" height="35.11" fill="#8fd18a" />
<line x1="343.45" y1="256.89" x2="343.45" y2="249.80" stroke="#8c8c8c" stroke-width="0.6" />
<line x1="342.25" y1="249.80" x2="344.65" y2="249.80" stroke="#8c8c8c" stroke-width="0.5" />
<text x="343.45" y="245.80" font-size="4.0" text-anchor="middle" fill="#404040" font-weight="bold" textLength="6.6" lengthAdjust="spacingAndGlyphs" >n.s.</text>
<rect x="355.48" y="262.40" width="13.40" height="29.60" fill="#d0cece" />
<line x1="360.88" y1="262.20" x2="363.48" y2="262.20" stroke="#888" stroke-width="0.5" />
<rect x="374.21" y="265.21" width="13.40" height="26.79" fill="#8fd18a" />
<line x1="380.91" y1="265.21" x2="380.91" y2="255.90" stroke="#8c8c8c" stroke-width="0.6" />
<line x1="379.71" y1="255.90" x2="382.11" y2="255.90" stroke="#8c8c8c" stroke-width="0.5" />
<text x="380.91" y="253.00" font-size="4.0" text-anchor="middle" fill="#404040" font-weight="bold" textLength="6.6" lengthAdjust="spacingAndGlyphs" >n.s.</text>
<text x="249.80" y="300.37" font-size="5.9" text-anchor="middle" fill="#4a4a4a"  stroke="#4a4a4a" stroke-width="0.22">Q10</text>
<text x="268.53" y="300.37" font-size="5.9" text-anchor="middle" fill="#4a4a4a"  stroke="#4a4a4a" stroke-width="0.22">Q1</text>
<text x="287.26" y="300.37" font-size="5.9" text-anchor="middle" fill="#4a4a4a"  stroke="#4a4a4a" stroke-width="0.22">Q10</text>
<text x="305.99" y="300.37" font-size="5.9" text-anchor="middle" fill="#4a4a4a"  stroke="#4a4a4a" stroke-width="0.22">Q1</text>
<text x="324.72" y="300.37" font-size="5.9" text-anchor="middle" fill="#4a4a4a"  stroke="#4a4a4a" stroke-width="0.22">Q10</text>
<text x="343.45" y="300.37" font-size="5.9" text-anchor="middle" fill="#4a4a4a"  stroke="#4a4a4a" stroke-width="0.22">Q1</text>
<text x="362.18" y="300.37" font-size="5.9" text-anchor="middle" fill="#4a4a4a"  stroke="#4a4a4a" stroke-width="0.22">Q10</text>
<text x="380.91" y="300.37" font-size="5.9" text-anchor="middle" fill="#4a4a4a"  stroke="#4a4a4a" stroke-width="0.22">Q1</text>
<text x="259.16" y="311.06" font-size="5.9" text-anchor="middle" fill="#4a4a4a"  stroke="#4a4a4a" stroke-width="0.22">48h</text>
<text x="296.62" y="311.06" font-size="5.9" text-anchor="middle" fill="#4a4a4a"  stroke="#4a4a4a" stroke-width="0.22">72h</text>
<text x="334.08" y="311.06" font-size="5.9" text-anchor="middle" fill="#4a4a4a"  stroke="#4a4a4a" stroke-width="0.22">48h</text>
<text x="371.55" y="311.06" font-size="5.9" text-anchor="middle" fill="#4a4a4a"  stroke="#4a4a4a" stroke-width="0.22">72h</text>
<rect x="237.70" y="312.10" width="76.50" height="12.20" fill="#fff" stroke="#7f7f7f" stroke-width="0.7"/>
<text x="273.70" y="321.89" font-size="7.7" text-anchor="middle" fill="#111" font-weight="bold" textLength="18.6" lengthAdjust="spacingAndGlyphs" >T3M4</text>
<rect x="316.90" y="312.10" width="72.10" height="12.20" fill="#fff" stroke="#7f7f7f" stroke-width="0.7"/>
<text x="349.20" y="321.89" font-size="7.7" text-anchor="middle" fill="#111" font-weight="bold" textLength="23.7" lengthAdjust="spacingAndGlyphs" >A818-6</text>
<text x="326.30" y="216.06" font-size="7.3" text-anchor="middle" fill="#4a4a4a" textLength="43.5" lengthAdjust="spacingAndGlyphs"  stroke="#4a4a4a" stroke-width="0.14">MCT4/Hsp90</text>
<text x="29.90" y="341.82" font-size="9.5" text-anchor="middle" fill="#000" font-weight="bold" >C)</text>
<line x1="47.50" y1="345.00" x2="47.50" y2="425.40" stroke="#bbb" stroke-width="0.6" stroke-dasharray="0.6 0.9"/>
<text x="43.80" y="427.30" font-size="4.3" text-anchor="end" fill="#444"  stroke="#444" stroke-width="0.15">0</text>
<line x1="46.50" y1="425.40" x2="47.50" y2="425.40" stroke="#999" stroke-width="0.4" />
<text x="43.80" y="417.55" font-size="4.3" text-anchor="end" fill="#444"  stroke="#444" stroke-width="0.15">50</text>
<line x1="46.50" y1="415.65" x2="47.50" y2="415.65" stroke="#999" stroke-width="0.4" />
<text x="43.80" y="407.80" font-size="4.3" text-anchor="end" fill="#444"  stroke="#444" stroke-width="0.15">100</text>
<line x1="46.50" y1="405.90" x2="47.50" y2="405.90" stroke="#999" stroke-width="0.4" />
<text x="43.80" y="398.05" font-size="4.3" text-anchor="end" fill="#444"  stroke="#444" stroke-width="0.15">150</text>
<line x1="46.50" y1="396.15" x2="47.50" y2="396.15" stroke="#999" stroke-width="0.4" />
<text x="43.80" y="388.30" font-size="4.3" text-anchor="end" fill="#444"  stroke="#444" stroke-width="0.15">200</text>
<line x1="46.50" y1="386.40" x2="47.50" y2="386.40" stroke="#999" stroke-width="0.4" />
<text x="43.80" y="378.55" font-size="4.3" text-anchor="end" fill="#444"  stroke="#444" stroke-width="0.15">250</text>
<line x1="46.50" y1="376.65" x2="47.50" y2="376.65" stroke="#999" stroke-width="0.4" />
<text x="43.80" y="368.80" font-size="4.3" text-anchor="end" fill="#444"  stroke="#444" stroke-width="0.15">300</text>
<line x1="46.50" y1="366.90" x2="47.50" y2="366.90" stroke="#999" stroke-width="0.4" />
<text x="43.80" y="359.05" font-size="4.3" text-anchor="end" fill="#444"  stroke="#444" stroke-width="0.15">350</text>
<line x1="46.50" y1="357.15" x2="47.50" y2="357.15" stroke="#999" stroke-width="0.4" />
<text x="43.80" y="349.30" font-size="4.3" text-anchor="end" fill="#444"  stroke="#444" stroke-width="0.15">400</text>
<line x1="46.50" y1="347.40" x2="47.50" y2="347.40" stroke="#999" stroke-width="0.4" />
<line x1="47.50" y1="425.40" x2="166.00" y2="425.40" stroke="#999" stroke-width="0.5" />
<text x="48.30" y="433.31" font-size="4.3" text-anchor="middle" fill="#444"  stroke="#444" stroke-width="0.15">0</text>
<line x1="48.30" y1="425.40" x2="48.30" y2="426.40" stroke="#999" stroke-width="0.4" />
<text x="80.00" y="433.27" font-size="4.2" text-anchor="middle" fill="#444"  stroke="#444" stroke-width="0.15">10</text>
<text x="82.50" y="430.78" font-size="2.8" text-anchor="middle" fill="#444"  stroke="#444" stroke-width="0.1">2</text>
<line x1="80.60" y1="425.40" x2="80.60" y2="426.40" stroke="#999" stroke-width="0.4" />
<text x="108.30" y="433.27" font-size="4.2" text-anchor="middle" fill="#444"  stroke="#444" stroke-width="0.15">10</text>
<text x="110.80" y="430.78" font-size="2.8" text-anchor="middle" fill="#444"  stroke="#444" stroke-width="0.1">3</text>
<line x1="108.90" y1="425.40" x2="108.90" y2="426.40" stroke="#999" stroke-width="0.4" />
<text x="136.90" y="433.27" font-size="4.2" text-anchor="middle" fill="#444"  stroke="#444" stroke-width="0.15">10</text>
<text x="139.40" y="430.78" font-size="2.8" text-anchor="middle" fill="#444"  stroke="#444" stroke-width="0.1">4</text>
<line x1="137.50" y1="425.40" x2="137.50" y2="426.40" stroke="#999" stroke-width="0.4" />
<text x="165.50" y="433.27" font-size="4.2" text-anchor="middle" fill="#444"  stroke="#444" stroke-width="0.15">10</text>
<text x="168.00" y="430.78" font-size="2.8" text-anchor="middle" fill="#444"  stroke="#444" stroke-width="0.1">5</text>
<line x1="166.10" y1="425.40" x2="166.10" y2="426.40" stroke="#999" stroke-width="0.4" />
<rect x="29.5" y="430.1" width="14.2" height="4.3" fill="#f0f0f0" stroke="#aaa" stroke-width="0.35"/>
<text x="36.10" y="433.72" font-size="4.2" text-anchor="middle" fill="#333" textLength="11.2" lengthAdjust="spacingAndGlyphs"  stroke="#333" stroke-width="0.15">PMTV</text>
<text transform="translate(31.10,383.50) rotate(-90)" x="0" y="1.68" font-size="4.8" text-anchor="middle" fill="#444" textLength="12.7" lengthAdjust="spacingAndGlyphs"  stroke="#444" stroke-width="0.12">Count</text>
<path d="M48.10,425.90 L52.60,425.70 L53.70,425.10 L56.10,418.10 L58.40,407.30 L60.70,391.90 L63.00,373.30 L64.60,361.00 L65.30,356.00 L66.20,357.50 L67.20,357.90 L68.00,360.50 L69.20,368.70 L70.70,384.10 L73.10,399.60 L76.10,412.00 L80.00,421.20 L83.90,425.10 L87.00,425.70" fill="none" stroke="#999" stroke-width="1.0" stroke-linejoin="round"/>
<path d="M47.50,425.40 L52.00,425.20 L53.10,424.60 L55.50,417.60 L57.80,406.80 L60.10,391.40 L62.40,372.80 L64.00,360.50 L64.70,355.50 L65.60,357.00 L66.60,357.40 L67.40,360.00 L68.60,368.20 L70.10,383.60 L72.50,399.10 L75.50,411.50 L79.40,420.70 L83.30,424.60 L86.40,425.20" fill="none" stroke="#4a4a4a" stroke-width="0.8" stroke-linejoin="round"/>
<path d="M47.50,425.40 L57.00,424.90 L60.00,424.30 L62.00,425.00 L66.00,424.40 L70.00,425.20 L90.00,425.20 L94.90,424.60 L98.00,422.00 L101.00,417.00 L104.00,408.00 L107.00,396.00 L110.00,384.00 L112.50,377.00 L114.30,374.20 L116.00,376.00 L118.50,384.00 L121.20,392.50 L124.00,401.00 L128.10,410.80 L131.00,417.00 L135.00,422.20 L138.00,424.30 L141.80,425.00 L166.00,425.00" fill="none" stroke="#ff2a4a" stroke-width="0.8" stroke-linejoin="round"/>
<path d="M47.50,425.40 L84.60,425.20 L88.00,423.50 L92.60,419.20 L93.70,413.00 L97.20,405.00 L100.60,397.00 L104.00,386.50 L106.50,385.60 L108.60,386.00 L113.20,394.80 L116.00,402.00 L120.00,413.00 L125.80,420.00 L130.00,423.50 L135.00,425.00 L150.00,425.30" fill="none" stroke="#2a3fff" stroke-width="0.8" stroke-linejoin="round"/>
<rect x="108.2" y="372.2" width="39.999999999999986" height="52.30000000000001" rx="4.5" fill="none" stroke="#777" stroke-width="0.6" stroke-dasharray="1.3 0.9"/>
<text x="68.90" y="348.30" font-size="8.0" text-anchor="start" fill="#000" font-weight="bold" textLength="42.4" lengthAdjust="spacingAndGlyphs" >T3M4 (48h)</text>
<text x="118.50" y="347.23" font-size="5.8" text-anchor="start" fill="#111" font-weight="bold" textLength="6.6" lengthAdjust="spacingAndGlyphs" >Q1</text>
<text x="132.30" y="347.23" font-size="5.8" text-anchor="start" fill="#111" font-weight="bold" textLength="21.3" lengthAdjust="spacingAndGlyphs" >(MCT1)</text>
<line x1="156.70" y1="345.20" x2="163.50" y2="345.20" stroke="#ff1030" stroke-width="1.4" />
<text x="118.50" y="354.33" font-size="5.8" text-anchor="start" fill="#111" font-weight="bold" textLength="12.5" lengthAdjust="spacingAndGlyphs" >Q10</text>
<text x="132.30" y="354.33" font-size="5.8" text-anchor="start" fill="#111" font-weight="bold" textLength="21.3" lengthAdjust="spacingAndGlyphs" >(MCT1)</text>
<line x1="156.70" y1="352.30" x2="163.50" y2="352.30" stroke="#1028ff" stroke-width="1.4" />
<text x="118.50" y="360.23" font-size="5.8" text-anchor="start" fill="#111" font-weight="bold" textLength="6.6" lengthAdjust="spacingAndGlyphs" >Q1</text>
<text x="132.30" y="360.23" font-size="5.8" text-anchor="start" fill="#111" font-weight="bold" textLength="11.6" lengthAdjust="spacingAndGlyphs" >(nc)</text>
<line x1="156.70" y1="358.20" x2="163.50" y2="358.20" stroke="#222" stroke-width="1.4" />
<text x="118.50" y="367.33" font-size="5.8" text-anchor="start" fill="#111" font-weight="bold" textLength="12.5" lengthAdjust="spacingAndGlyphs" >Q10</text>
<text x="132.30" y="367.33" font-size="5.8" text-anchor="start" fill="#111" font-weight="bold" textLength="11.6" lengthAdjust="spacingAndGlyphs" >(nc)</text>
<line x1="156.70" y1="365.30" x2="163.50" y2="365.30" stroke="#999" stroke-width="1.4" />
<text x="125.10" y="381.19" font-size="5.4" text-anchor="start" fill="#ff1030" font-weight="bold" textLength="38" lengthAdjust="spacingAndGlyphs" >75.21 ± 17.62</text>
<text x="125.10" y="390.29" font-size="5.4" text-anchor="start" fill="#1028ff" font-weight="bold" textLength="23.0" lengthAdjust="spacingAndGlyphs" >45.04 ±</text>
<text x="163.00" y="390.29" font-size="5.4" text-anchor="end" fill="#1028ff" font-weight="bold" textLength="10.4" lengthAdjust="spacingAndGlyphs" >8.75</text>
<line x1="47.50" y1="449.00" x2="47.50" y2="531.00" stroke="#bbb" stroke-width="0.6" stroke-dasharray="0.6 0.9"/>
<text x="43.80" y="533.15" font-size="5.0" text-anchor="end" fill="#444"  stroke="#444" stroke-width="0.15">0</text>
<line x1="46.50" y1="531.00" x2="47.50" y2="531.00" stroke="#999" stroke-width="0.4" />
<text x="43.80" y="522.27" font-size="5.0" text-anchor="end" fill="#444"  stroke="#444" stroke-width="0.15">50</text>
<line x1="46.50" y1="520.12" x2="47.50" y2="520.12" stroke="#999" stroke-width="0.4" />
<text x="43.80" y="511.40" font-size="5.0" text-anchor="end" fill="#444"  stroke="#444" stroke-width="0.15">100</text>
<line x1="46.50" y1="509.25" x2="47.50" y2="509.25" stroke="#999" stroke-width="0.4" />
<text x="43.80" y="500.52" font-size="5.0" text-anchor="end" fill="#444"  stroke="#444" stroke-width="0.15">150</text>
<line x1="46.50" y1="498.38" x2="47.50" y2="498.38" stroke="#999" stroke-width="0.4" />
<text x="43.80" y="489.65" font-size="5.0" text-anchor="end" fill="#444"  stroke="#444" stroke-width="0.15">200</text>
<line x1="46.50" y1="487.50" x2="47.50" y2="487.50" stroke="#999" stroke-width="0.4" />
<text x="43.80" y="478.77" font-size="5.0" text-anchor="end" fill="#444"  stroke="#444" stroke-width="0.15">250</text>
<line x1="46.50" y1="476.62" x2="47.50" y2="476.62" stroke="#999" stroke-width="0.4" />
<text x="43.80" y="467.90" font-size="5.0" text-anchor="end" fill="#444"  stroke="#444" stroke-width="0.15">300</text>
<line x1="46.50" y1="465.75" x2="47.50" y2="465.75" stroke="#999" stroke-width="0.4" />
<text x="43.80" y="457.02" font-size="5.0" text-anchor="end" fill="#444"  stroke="#444" stroke-width="0.15">350</text>
<line x1="46.50" y1="454.88" x2="47.50" y2="454.88" stroke="#999" stroke-width="0.4" />
<line x1="47.50" y1="531.00" x2="166.00" y2="531.00" stroke="#999" stroke-width="0.5" />
<text x="48.30" y="538.50" font-size="4.3" text-anchor="middle" fill="#444"  stroke="#444" stroke-width="0.15">0</text>
<line x1="48.30" y1="531.00" x2="48.30" y2="532.00" stroke="#999" stroke-width="0.4" />
<text x="78.80" y="538.47" font-size="4.2" text-anchor="middle" fill="#444"  stroke="#444" stroke-width="0.15">10</text>
<text x="81.30" y="535.98" font-size="2.8" text-anchor="middle" fill="#444"  stroke="#444" stroke-width="0.1">2</text>
<line x1="79.40" y1="531.00" x2="79.40" y2="532.00" stroke="#999" stroke-width="0.4" />
<text x="108.00" y="538.47" font-size="4.2" text-anchor="middle" fill="#444"  stroke="#444" stroke-width="0.15">10</text>
<text x="110.50" y="535.98" font-size="2.8" text-anchor="middle" fill="#444"  stroke="#444" stroke-width="0.1">3</text>
<line x1="108.60" y1="531.00" x2="108.60" y2="532.00" stroke="#999" stroke-width="0.4" />
<text x="137.80" y="538.47" font-size="4.2" text-anchor="middle" fill="#444"  stroke="#444" stroke-width="0.15">10</text>
<text x="140.30" y="535.98" font-size="2.8" text-anchor="middle" fill="#444"  stroke="#444" stroke-width="0.1">4</text>
<line x1="138.40" y1="531.00" x2="138.40" y2="532.00" stroke="#999" stroke-width="0.4" />
<text x="164.10" y="538.47" font-size="4.2" text-anchor="middle" fill="#444"  stroke="#444" stroke-width="0.15">10</text>
<text x="166.60" y="535.98" font-size="2.8" text-anchor="middle" fill="#444"  stroke="#444" stroke-width="0.1">5</text>
<line x1="164.70" y1="531.00" x2="164.70" y2="532.00" stroke="#999" stroke-width="0.4" />
<rect x="31.8" y="534.2" width="13.5" height="4.8" fill="#f0f0f0" stroke="#aaa" stroke-width="0.35"/>
<text x="38.05" y="538.07" font-size="4.2" text-anchor="middle" fill="#333" textLength="10.5" lengthAdjust="spacingAndGlyphs"  stroke="#333" stroke-width="0.15">PMTV</text>
<text transform="translate(32.10,487.20) rotate(-90)" x="0" y="1.68" font-size="4.8" text-anchor="middle" fill="#444" textLength="12.7" lengthAdjust="spacingAndGlyphs"  stroke="#444" stroke-width="0.12">Count</text>
<path d="M48.10,531.60 L49.10,531.60 L53.00,530.10 L55.30,523.10 L57.60,509.20 L59.10,490.70 L60.70,473.70 L62.20,461.30 L62.70,459.00 L63.80,462.90 L65.30,470.60 L66.90,481.40 L68.40,498.40 L70.70,509.20 L73.10,517.00 L76.10,524.70 L80.80,529.30 L85.40,530.90 L87.60,531.30" fill="none" stroke="#999" stroke-width="1.0" stroke-linejoin="round"/>
<path d="M47.50,531.10 L48.50,531.10 L52.40,529.60 L54.70,522.60 L57.00,508.70 L58.50,490.20 L60.10,473.20 L61.60,460.80 L62.10,458.50 L63.20,462.40 L64.70,470.10 L66.30,480.90 L67.80,497.90 L70.10,508.70 L72.50,516.50 L75.50,524.20 L80.20,528.80 L84.80,530.40 L87.00,530.80" fill="none" stroke="#4a4a4a" stroke-width="0.8" stroke-linejoin="round"/>
<path d="M47.50,531.10 L57.00,531.10 L86.40,530.40 L89.20,530.20 L91.00,528.80 L94.90,525.70 L97.20,525.00 L98.00,521.10 L100.00,514.90 L101.80,510.00 L103.50,500.00 L105.20,490.60 L106.50,482.00 L107.50,478.70 L109.00,480.50 L110.00,478.50 L112.00,478.70 L113.00,482.00 L114.30,490.60 L116.50,500.00 L118.90,509.00 L121.00,516.00 L123.50,522.70 L126.00,527.00 L128.10,529.50 L132.70,530.70 L166.00,530.60" fill="none" stroke="#ff2a4a" stroke-width="0.8" stroke-linejoin="round"/>
<path d="M47.50,531.10 L53.90,531.10 L67.80,530.40 L72.50,528.80 L77.10,524.20 L80.20,519.60 L84.00,508.70 L87.90,499.50 L91.40,494.00 L92.50,494.60 L94.90,495.20 L97.20,497.10 L99.50,498.60 L102.00,504.00 L104.00,510.00 L108.60,518.00 L114.30,522.70 L121.20,528.40 L130.40,530.70 L150.00,530.90" fill="none" stroke="#2a3fff" stroke-width="0.8" stroke-linejoin="round"/>
<rect x="107.5" y="475.5" width="37.30000000000001" height="55.200000000000045" rx="4.5" fill="none" stroke="#777" stroke-width="0.6" stroke-dasharray="1.3 0.9"/>
<text x="64.50" y="452.40" font-size="8.0" text-anchor="start" fill="#000" font-weight="bold" textLength="48.6" lengthAdjust="spacingAndGlyphs" >A818-6 (72h)</text>
<text x="120.30" y="447.99" font-size="5.974" text-anchor="start" fill="#111" font-weight="bold" textLength="6.798" lengthAdjust="spacingAndGlyphs" >Q1</text>
<text x="134.51" y="447.99" font-size="5.974" text-anchor="start" fill="#111" font-weight="bold" textLength="21.939" lengthAdjust="spacingAndGlyphs" >(MCT1)</text>
<line x1="159.65" y1="445.90" x2="166.65" y2="445.90" stroke="#ff1030" stroke-width="1.4" />
<text x="120.30" y="454.69" font-size="5.974" text-anchor="start" fill="#111" font-weight="bold" textLength="12.875" lengthAdjust="spacingAndGlyphs" >Q10</text>
<text x="134.51" y="454.69" font-size="5.974" text-anchor="start" fill="#111" font-weight="bold" textLength="21.939" lengthAdjust="spacingAndGlyphs" >(MCT1)</text>
<line x1="159.65" y1="452.60" x2="166.65" y2="452.60" stroke="#1028ff" stroke-width="1.4" />
<text x="120.30" y="461.39" font-size="5.974" text-anchor="start" fill="#111" font-weight="bold" textLength="6.798" lengthAdjust="spacingAndGlyphs" >Q1</text>
<text x="134.51" y="461.39" font-size="5.974" text-anchor="start" fill="#111" font-weight="bold" textLength="11.948" lengthAdjust="spacingAndGlyphs" >(nc)</text>
<line x1="159.65" y1="459.30" x2="166.65" y2="459.30" stroke="#222" stroke-width="1.4" />
<text x="120.30" y="468.39" font-size="5.974" text-anchor="start" fill="#111" font-weight="bold" textLength="12.875" lengthAdjust="spacingAndGlyphs" >Q10</text>
<text x="134.51" y="468.39" font-size="5.974" text-anchor="start" fill="#111" font-weight="bold" textLength="11.948" lengthAdjust="spacingAndGlyphs" >(nc)</text>
<line x1="159.65" y1="466.30" x2="166.65" y2="466.30" stroke="#999" stroke-width="1.4" />
<text x="122.60" y="484.09" font-size="5.4" text-anchor="start" fill="#ff1030" font-weight="bold" textLength="37.8" lengthAdjust="spacingAndGlyphs" >69.77 ± 12.13</text>
<text x="122.60" y="493.09" font-size="5.4" text-anchor="start" fill="#1028ff" font-weight="bold" textLength="20.4" lengthAdjust="spacingAndGlyphs" >19.20 ±</text>
<text x="158.70" y="493.09" font-size="5.4" text-anchor="end" fill="#1028ff" font-weight="bold" textLength="11.6" lengthAdjust="spacingAndGlyphs" >5.48</text>
<text x="115.70" y="545.31" font-size="4.6" text-anchor="middle" fill="#333" font-weight="bold" textLength="19.8" lengthAdjust="spacingAndGlyphs" >AF-647</text>
<text x="196.50" y="348.82" font-size="9.5" text-anchor="middle" fill="#000" font-weight="bold" >D)</text>
<line x1="215.40" y1="426.40" x2="379.50" y2="426.40" stroke="#e0e0e0" stroke-width="0.6" />
<line x1="215.40" y1="414.80" x2="379.50" y2="414.80" stroke="#e0e0e0" stroke-width="0.6" />
<line x1="215.40" y1="403.20" x2="379.50" y2="403.20" stroke="#e0e0e0" stroke-width="0.6" />
<line x1="215.40" y1="391.60" x2="379.50" y2="391.60" stroke="#e0e0e0" stroke-width="0.6" />
<line x1="215.40" y1="380.00" x2="379.50" y2="380.00" stroke="#e0e0e0" stroke-width="0.6" />
<line x1="215.40" y1="368.40" x2="379.50" y2="368.40" stroke="#e0e0e0" stroke-width="0.6" />
<line x1="215.40" y1="356.80" x2="379.50" y2="356.80" stroke="#e0e0e0" stroke-width="0.6" />
<text x="209.20" y="439.63" font-size="5.8" text-anchor="end" fill="#4a4a4a"  stroke="#4a4a4a" stroke-width="0.22">0</text>
<text x="209.20" y="428.03" font-size="5.8" text-anchor="end" fill="#4a4a4a"  stroke="#4a4a4a" stroke-width="0.22">10</text>
<text x="209.20" y="416.43" font-size="5.8" text-anchor="end" fill="#4a4a4a"  stroke="#4a4a4a" stroke-width="0.22">20</text>
<text x="209.20" y="404.83" font-size="5.8" text-anchor="end" fill="#4a4a4a"  stroke="#4a4a4a" stroke-width="0.22">30</text>
<text x="209.20" y="393.23" font-size="5.8" text-anchor="end" fill="#4a4a4a"  stroke="#4a4a4a" stroke-width="0.22">40</text>
<text x="209.20" y="381.63" font-size="5.8" text-anchor="end" fill="#4a4a4a"  stroke="#4a4a4a" stroke-width="0.22">50</text>
<text x="209.20" y="370.03" font-size="5.8" text-anchor="end" fill="#4a4a4a"  stroke="#4a4a4a" stroke-width="0.22">60</text>
<text x="209.20" y="358.43" font-size="5.8" text-anchor="end" fill="#4a4a4a"  stroke="#4a4a4a" stroke-width="0.22">70</text>
<line x1="215.40" y1="438.00" x2="379.50" y2="438.00" stroke="#e0e0e0" stroke-width="0.7" />
<line x1="215.30" y1="438.00" x2="215.30" y2="461.00" stroke="#e0e0e0" stroke-width="0.6" />
<line x1="242.70" y1="438.00" x2="242.70" y2="461.00" stroke="#e0e0e0" stroke-width="0.6" />
<line x1="270.70" y1="438.00" x2="270.70" y2="461.00" stroke="#e0e0e0" stroke-width="0.6" />
<line x1="298.00" y1="438.00" x2="298.00" y2="461.00" stroke="#e0e0e0" stroke-width="0.6" />
<line x1="324.80" y1="438.00" x2="324.80" y2="461.00" stroke="#e0e0e0" stroke-width="0.6" />
<line x1="352.80" y1="438.00" x2="352.80" y2="461.00" stroke="#e0e0e0" stroke-width="0.6" />
<line x1="379.50" y1="438.00" x2="379.50" y2="461.00" stroke="#e0e0e0" stroke-width="0.6" />
<rect x="221.20" y="397.40" width="16.00" height="40.60" fill="#d0cece" />
<line x1="229.20" y1="397.40" x2="229.20" y2="394.80" stroke="#8c8c8c" stroke-width="0.6" />
<line x1="228.00" y1="394.80" x2="230.40" y2="394.80" stroke="#8c8c8c" stroke-width="0.5" />
<rect x="248.62" y="373.04" width="16.00" height="64.96" fill="#76a3e0" />
<line x1="256.62" y1="373.04" x2="256.62" y2="363.20" stroke="#8c8c8c" stroke-width="0.6" />
<line x1="255.42" y1="363.20" x2="257.82" y2="363.20" stroke="#8c8c8c" stroke-width="0.5" />
<text x="256.62" y="361.12" font-size="5.5" text-anchor="middle" fill="#404040" font-weight="bold" >*</text>
<rect x="276.04" y="418.86" width="16.00" height="19.14" fill="#8fd18a" />
<line x1="284.04" y1="418.86" x2="284.04" y2="415.00" stroke="#8c8c8c" stroke-width="0.6" />
<line x1="282.84" y1="415.00" x2="285.24" y2="415.00" stroke="#8c8c8c" stroke-width="0.5" />
<rect x="303.46" y="429.07" width="16.00" height="8.93" fill="#d0cece" />
<line x1="311.46" y1="429.07" x2="311.46" y2="427.00" stroke="#8c8c8c" stroke-width="0.6" />
<line x1="310.26" y1="427.00" x2="312.66" y2="427.00" stroke="#8c8c8c" stroke-width="0.5" />
<rect x="330.88" y="382.90" width="16.00" height="55.10" fill="#76a3e0" />
<line x1="338.88" y1="382.90" x2="338.88" y2="371.00" stroke="#8c8c8c" stroke-width="0.6" />
<line x1="337.68" y1="371.00" x2="340.08" y2="371.00" stroke="#8c8c8c" stroke-width="0.5" />
<text x="338.88" y="369.73" font-size="5.5" text-anchor="middle" fill="#404040" font-weight="bold" textLength="4.6" lengthAdjust="spacingAndGlyphs" >**</text>
<rect x="358.30" y="424.43" width="16.00" height="13.57" fill="#8fd18a" />
<line x1="366.30" y1="424.43" x2="366.30" y2="409.10" stroke="#8c8c8c" stroke-width="0.6" />
<line x1="365.10" y1="409.10" x2="367.50" y2="409.10" stroke="#8c8c8c" stroke-width="0.5" />
<text x="229.20" y="447.46" font-size="5.9" text-anchor="middle" fill="#4a4a4a"  stroke="#4a4a4a" stroke-width="0.22">Q10</text>
<text x="229.20" y="457.96" font-size="5.9" text-anchor="middle" fill="#4a4a4a"  stroke="#4a4a4a" stroke-width="0.22">co siR</text>
<text x="256.62" y="447.46" font-size="5.9" text-anchor="middle" fill="#4a4a4a"  stroke="#4a4a4a" stroke-width="0.22">Q1</text>
<text x="256.62" y="457.96" font-size="5.9" text-anchor="middle" fill="#4a4a4a"  stroke="#4a4a4a" stroke-width="0.22">co siR</text>
<text x="284.04" y="447.46" font-size="5.9" text-anchor="middle" fill="#4a4a4a"  stroke="#4a4a4a" stroke-width="0.22">Q1</text>
<text x="284.04" y="457.96" font-size="5.9" text-anchor="middle" fill="#4a4a4a"  stroke="#4a4a4a" stroke-width="0.22">mct1 siR</text>
<text x="311.46" y="447.46" font-size="5.9" text-anchor="middle" fill="#4a4a4a"  stroke="#4a4a4a" stroke-width="0.22">Q10</text>
<text x="311.46" y="457.96" font-size="5.9" text-anchor="middle" fill="#4a4a4a"  stroke="#4a4a4a" stroke-width="0.22">co siR</text>
<text x="338.88" y="447.46" font-size="5.9" text-anchor="middle" fill="#4a4a4a"  stroke="#4a4a4a" stroke-width="0.22">Q1</text>
<text x="338.88" y="457.96" font-size="5.9" text-anchor="middle" fill="#4a4a4a"  stroke="#4a4a4a" stroke-width="0.22">co siR</text>
<text x="366.30" y="447.46" font-size="5.9" text-anchor="middle" fill="#4a4a4a"  stroke="#4a4a4a" stroke-width="0.22">Q1</text>
<text x="366.30" y="457.96" font-size="5.9" text-anchor="middle" fill="#4a4a4a"  stroke="#4a4a4a" stroke-width="0.22">mct1 siR</text>
<rect x="214.00" y="462.50" width="82.70" height="12.80" fill="#fff" stroke="#7f7f7f" stroke-width="0.7"/>
<text x="257.10" y="471.80" font-size="8.0" text-anchor="middle" fill="#111" font-weight="bold" textLength="20.4" lengthAdjust="spacingAndGlyphs" >T3M4</text>
<rect x="299.40" y="462.50" width="82.10" height="12.80" fill="#fff" stroke="#7f7f7f" stroke-width="0.7"/>
<text x="338.00" y="471.80" font-size="8.0" text-anchor="middle" fill="#111" font-weight="bold" textLength="25.4" lengthAdjust="spacingAndGlyphs" >A818-6</text>
<text x="261.50" y="347.05" font-size="7.0" text-anchor="start" fill="#3a3a3a" textLength="61.2" lengthAdjust="spacingAndGlyphs"  stroke="#3a3a3a" stroke-width="0.2">C<tspan font-size="3.8" dy="-2.2">14</tspan><tspan dy="2.2">-Lactate uptake</tspan></text>
<text transform="translate(183.50,393.00) rotate(-90)" x="0" y="2.27" font-size="6.5" text-anchor="middle" fill="#333" textLength="58" lengthAdjust="spacingAndGlyphs"  stroke="#333" stroke-width="0.3">C<tspan font-size="3.8" dy="-2.2">14</tspan><tspan dy="2.2">-Lactate uptake</tspan></text>
<text transform="translate(193.90,392.80) rotate(-90)" x="0" y="2.27" font-size="6.5" text-anchor="middle" fill="#333" textLength="58.4" lengthAdjust="spacingAndGlyphs"  stroke="#333" stroke-width="0.3">(pmol/mg protein)</text>
</svg>
</body></html>
